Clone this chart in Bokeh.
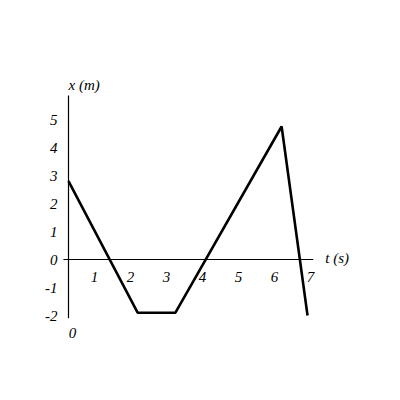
from bokeh.plotting import figure
from bokeh.models import ColumnDataSource, Range1d
from bokeh.core.properties import value
from bokeh.embed import file_html
from bokeh.resources import INLINE

# data (position vs time)
t_vals = [0, 1.92, 2.97, 5.92, 6.64]
x_vals = [2.8, -1.9, -1.9, 4.75, -2.0]

# tick labels
t_ticks = [1, 2, 3, 4, 5, 6, 7]
t_tick_labels = ["1", "2", "3", "4", "5", "6", "7"]
x_ticks = [5, 4, 3, 2, 1, 0, -1, -2]
x_tick_labels = ["5", "4", "3", "2", "1", "0", "-1", "-2"]

# axis extents
t_axis_span = [-0.14, 6.8]
x_axis_span = [-2.1, 5.86]

p = figure(width=384, height=384, output_backend="svg", toolbar_location=None,
           x_range=Range1d(-1.8889, 8.7778), y_range=Range1d(-4.464, 9.25),
           min_border=0)
p.xaxis.visible = False
p.yaxis.visible = False
p.grid.visible = False
p.outline_line_color = None
p.background_fill_color = "white"
p.border_fill_color = "white"

FONT = value("Liberation Serif")

# axes lines
p.line(x=t_axis_span, y=[0, 0], line_color="black", line_width=1.2)
p.line(x=[0, 0], y=x_axis_span, line_color="black", line_width=1.2)

# data line
p.line(x=t_vals, y=x_vals, line_color="black", line_width=2.6)

# tick labels
src_t = ColumnDataSource(dict(x=t_ticks, y=[0] * len(t_ticks), text=t_tick_labels))
p.text(x="x", y="y", text="text", source=src_t, text_font=FONT, text_font_style="italic",
       text_font_size="15px", text_align="center", text_baseline="middle",
       x_offset=-10, y_offset=17, text_color="black")

src_x = ColumnDataSource(dict(x=[0] * len(x_ticks), y=x_ticks, text=x_tick_labels))
p.text(x="x", y="y", text="text", source=src_x, text_font=FONT, text_font_style="italic",
       text_font_size="15px", text_align="right", text_baseline="middle",
       x_offset=-11, y_offset=0, text_color="black")

# origin label
p.text(x=[0], y=[0], text=["0"], text_font=FONT, text_font_style="italic",
       text_font_size="15px", text_align="center", text_baseline="middle",
       x_offset=4, y_offset=73, text_color="black")

# axis titles
p.text(x=[0], y=[x_axis_span[1]], text=["x (m)"], text_font=FONT, text_font_style="italic",
       text_font_size="15px", text_align="left", text_baseline="middle",
       x_offset=0, y_offset=-10, text_color="black")
p.text(x=[t_axis_span[1]], y=[0], text=["t (s)"], text_font=FONT, text_font_style="italic",
       text_font_size="15px", text_align="left", text_baseline="middle",
       x_offset=12, y_offset=-2, text_color="black")

open("out.html", "w").write(file_html(p, INLINE))
